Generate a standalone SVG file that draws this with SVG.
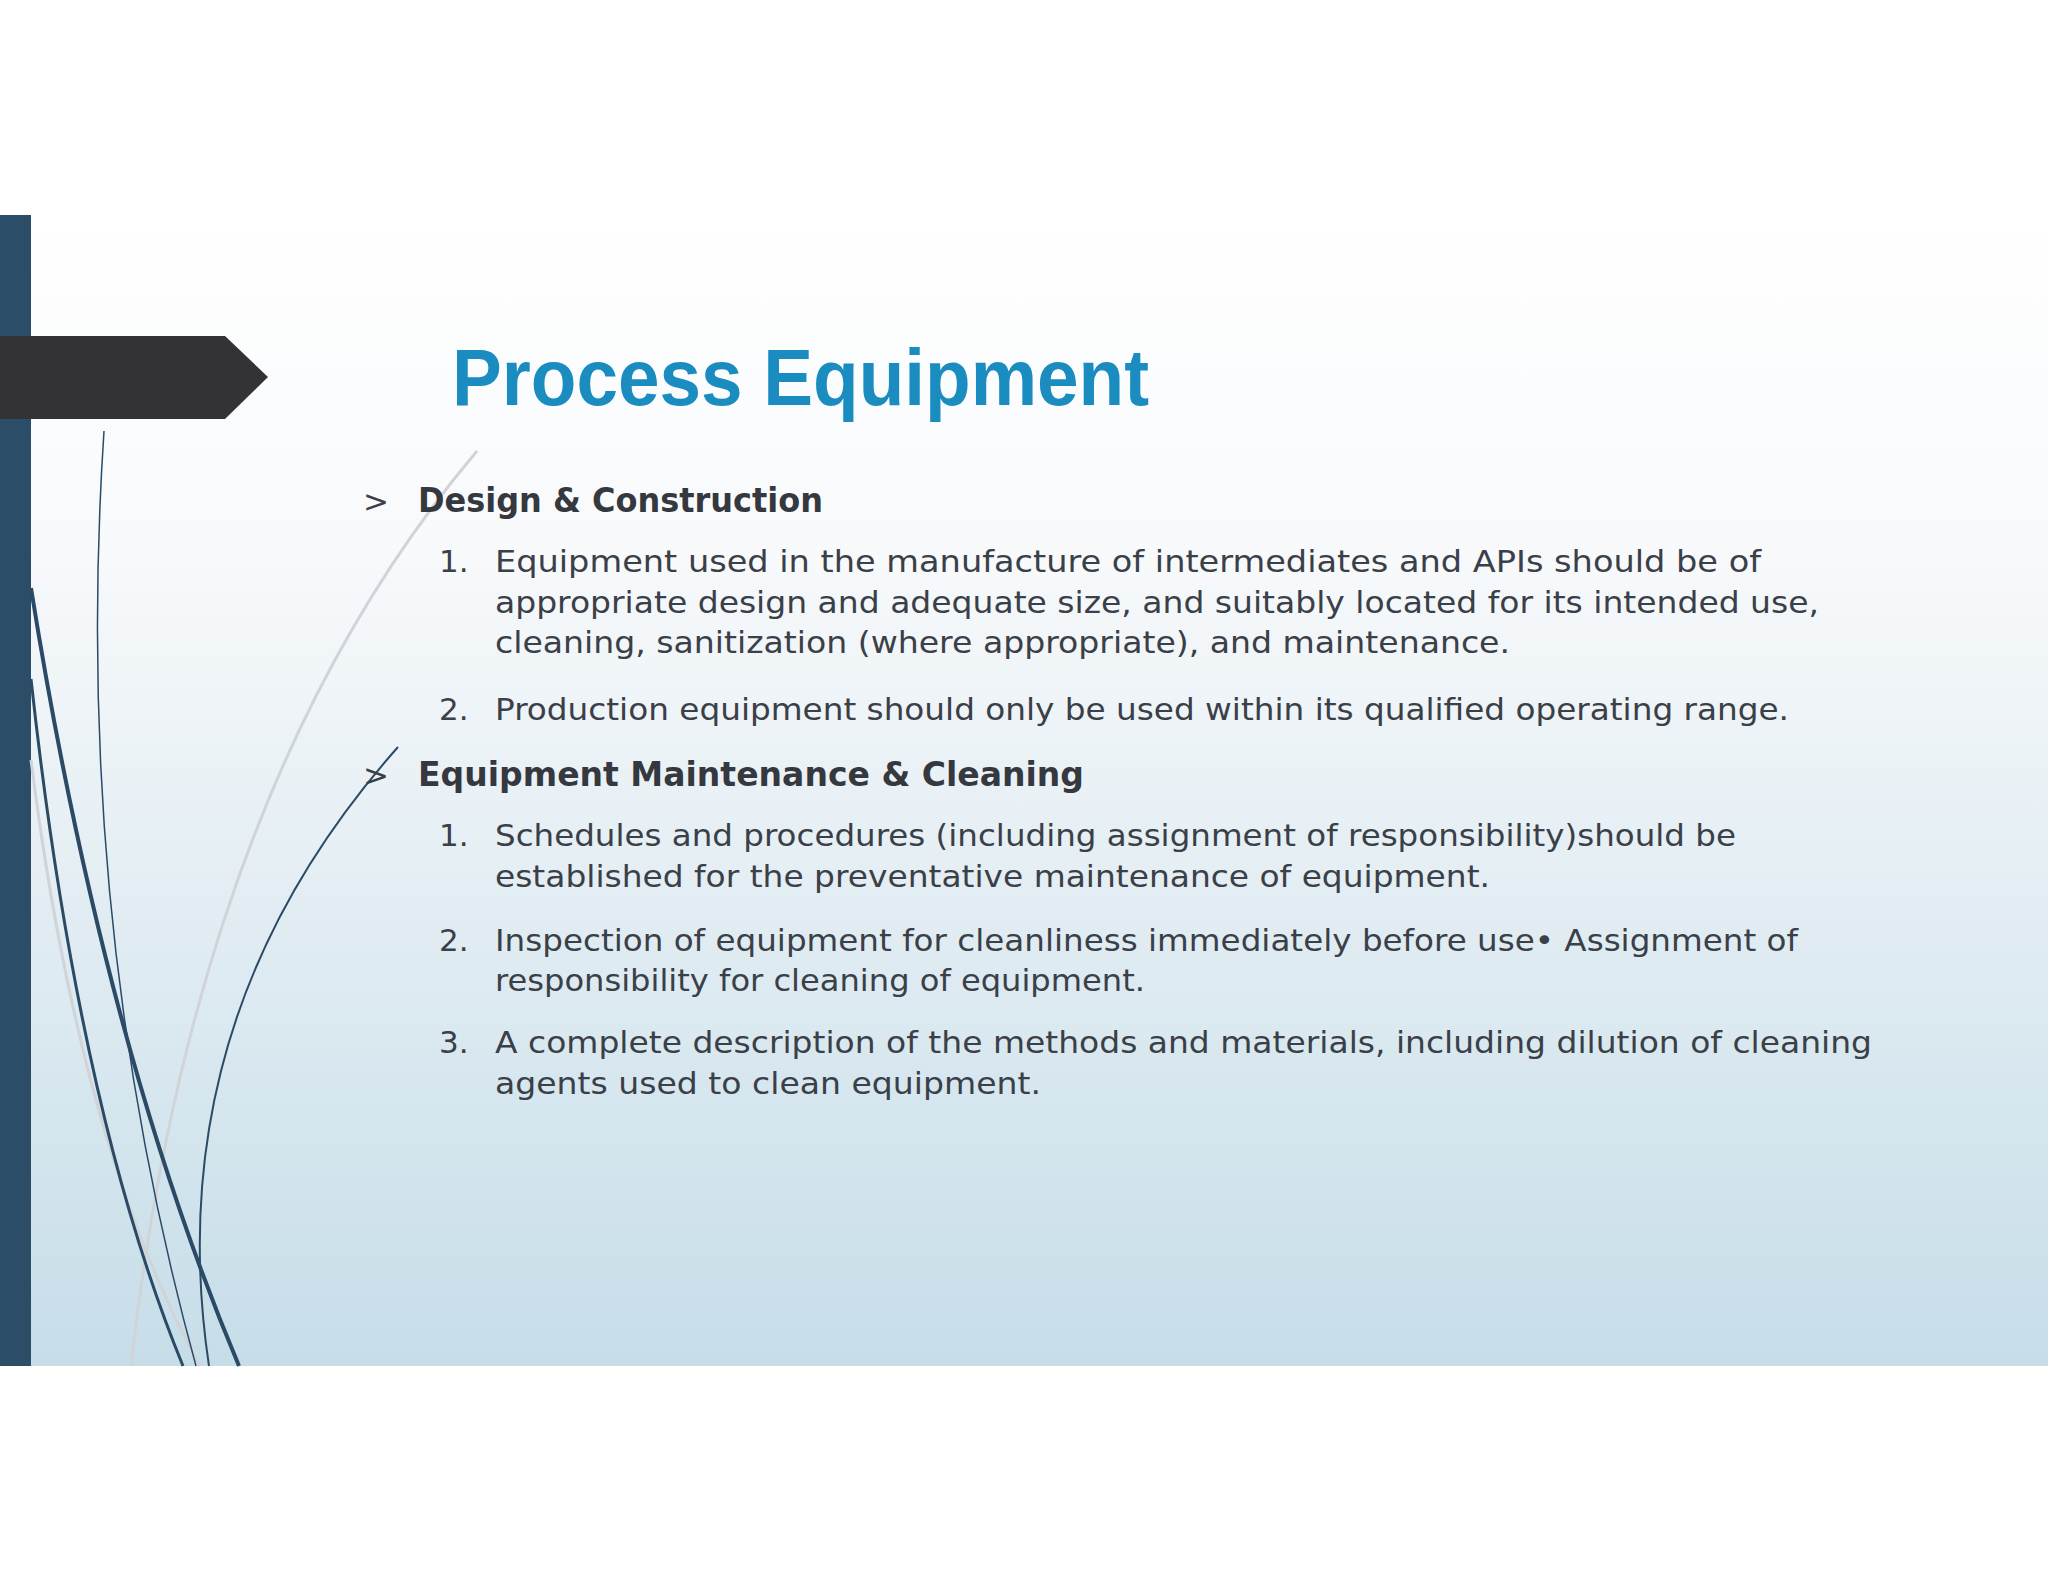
<svg xmlns="http://www.w3.org/2000/svg" width="2048" height="1582" viewBox="0 0 2048 1582">
<defs>
<linearGradient id="bg" x1="0" y1="0" x2="0" y2="1">
<stop offset="0" stop-color="#ffffff"/><stop offset="0.3" stop-color="#f7f9fb"/><stop offset="1" stop-color="#c6dde8"/>
</linearGradient>
<style>
.t{font-family:"DejaVu Sans",sans-serif;font-size:31px;fill:#3a3f48}
.h{font-family:"DejaVu Sans",sans-serif;font-weight:bold;font-size:34px;fill:#35383e}
.c{fill:none;stroke:#2b4a66}
.g{fill:none;stroke:#d0d4d8}
</style>
</defs>
<rect width="2048" height="1582" fill="#ffffff"/>
<rect x="0" y="215" width="2048" height="1151" fill="url(#bg)"/>
<rect x="0" y="215" width="31" height="1151" fill="#2b4d68"/>
<g id="curves">
<path class="g" stroke-width="3" d="M477,451 Q196,784 131,1366"/>
<path class="g" stroke-width="3" d="M31,760 Q80,1150 200,1366"/>
<path class="c" stroke-width="1.5" d="M104,431 Q72,914 196,1366"/>
<path class="c" stroke-width="4" d="M31,588 Q104,1045 239,1366"/>
<path class="c" stroke-width="3" d="M31,679 Q78,1110 183,1366"/>
<path class="c" stroke-width="2" d="M398,747 Q157,1019 209,1366"/>
</g>
<path id="arrow" d="M0,336 H225 L268,377 L225,419 H0 Z" fill="#333336"/>
<g id="title"><text x="452" y="405" font-family="Liberation Sans, sans-serif" font-weight="bold" font-size="80" fill="#1a8cc0" textLength="697" lengthAdjust="spacingAndGlyphs">Process Equipment</text></g>
<g id="s1">
<text x="363" y="512" class="t">&gt;</text>
<text x="418" y="512" class="h" textLength="405" lengthAdjust="spacingAndGlyphs">Design &amp; Construction</text>
<text x="439" y="572" class="t">1.</text>
<text x="495" y="572" class="t" textLength="1266" lengthAdjust="spacingAndGlyphs">Equipment used in the manufacture of intermediates and APIs should be of</text>
<text x="495" y="613" class="t" textLength="1324" lengthAdjust="spacingAndGlyphs">appropriate design and adequate size, and suitably located for its intended use,</text>
<text x="495" y="653" class="t" textLength="1015" lengthAdjust="spacingAndGlyphs">cleaning, sanitization (where appropriate), and maintenance.</text>
<text x="439" y="720" class="t">2.</text>
<text x="495" y="720" class="t" textLength="1294" lengthAdjust="spacingAndGlyphs">Production equipment should only be used within its qualified operating range.</text>
</g>
<g id="s2">
<text x="363" y="786" class="t">&gt;</text>
<text x="418" y="786" class="h" textLength="666" lengthAdjust="spacingAndGlyphs">Equipment Maintenance &amp; Cleaning</text>
<text x="439" y="846" class="t">1.</text>
<text x="495" y="846" class="t" textLength="1241" lengthAdjust="spacingAndGlyphs">Schedules and procedures (including assignment of responsibility)should be</text>
<text x="495" y="887" class="t" textLength="995" lengthAdjust="spacingAndGlyphs">established for the preventative maintenance of equipment.</text>
<text x="439" y="951" class="t">2.</text>
<text x="495" y="951" class="t" textLength="1303" lengthAdjust="spacingAndGlyphs">Inspection of equipment for cleanliness immediately before use• Assignment of</text>
<text x="495" y="991" class="t" textLength="650" lengthAdjust="spacingAndGlyphs">responsibility for cleaning of equipment.</text>
<text x="439" y="1053" class="t">3.</text>
<text x="495" y="1053" class="t" textLength="1377" lengthAdjust="spacingAndGlyphs">A complete description of the methods and materials, including dilution of cleaning</text>
<text x="495" y="1094" class="t" textLength="546" lengthAdjust="spacingAndGlyphs">agents used to clean equipment.</text>
</g>
</svg>
